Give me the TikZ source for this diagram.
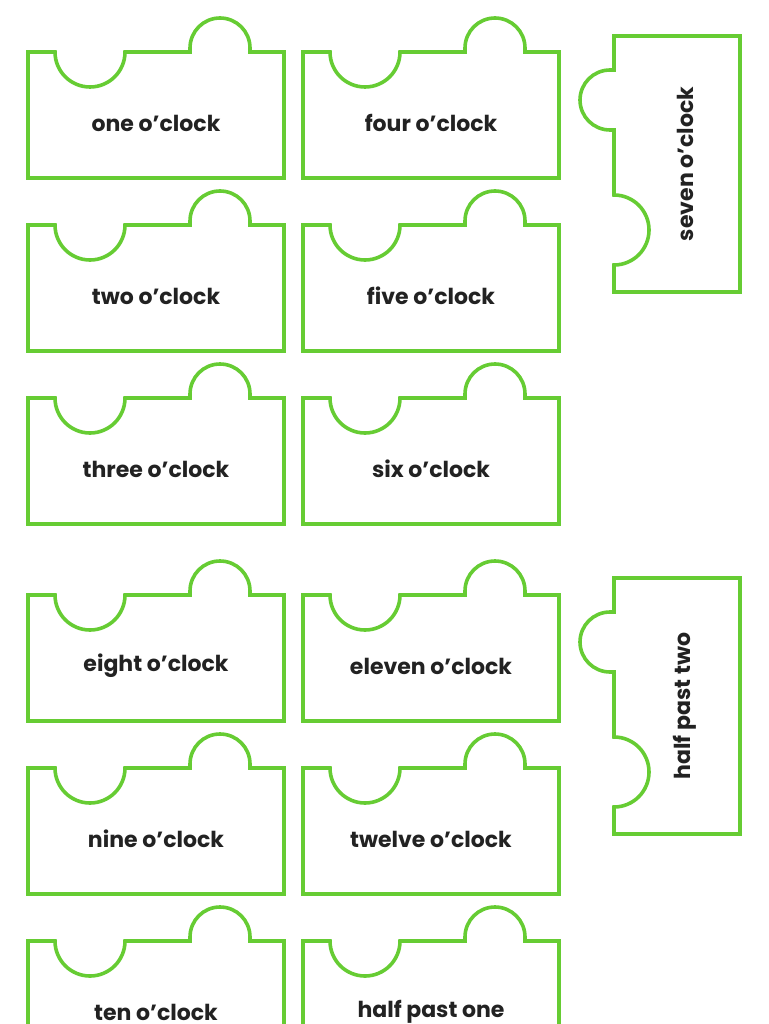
\documentclass[tikz,border=0pt]{standalone}
\usepackage{fontspec}
\setmainfont{Poppins}
\begin{document}
\begin{tikzpicture}[x=1pt,y=1pt,
  piece/.style={draw=pgreen,line width=3.6pt,fill=white,line join=miter},
  lbl/.style={font=\fontsize{22}{26}\selectfont\bfseries,text=txt}]
\definecolor{pgreen}{HTML}{66CC33}
\definecolor{txt}{HTML}{222222}
\tikzset{jig/.pic={
  \draw[piece] (0,0) -- (27,0) arc[start angle=180,end angle=360,radius=35] -- (162,0) -- (162,4)
     arc[start angle=180,end angle=0,radius=30] -- (222,0) -- (256,0) -- (256,-126) -- (0,-126) -- cycle;
  \node[lbl,transform shape] (-t) at (128,-71) {\tikzpictext};
}}
\useasboundingbox (0,0) rectangle (768,-1024);
\clip (0,0) rectangle (768,-1024);
\foreach \x/\y/\t [count=\i] in {28/52/one o’clock,303/52/four o’clock,28/225/two o’clock,303/225/five o’clock,
  28/398/three o’clock,303/398/six o’clock,28/595/eight o’clock,303/595/eleven o’clock,
  28/768/nine o’clock,303/768/twelve o’clock,28/941/ten o’clock,303/941/half past one}
  \pic[pic text={\t}] (p\i) at (\x,-\y) {jig};
\pic[rotate=90,pic text={seven o’clock}] (v1) at (614,-292) {jig};
\pic[rotate=90,pic text={half past two}] (v2) at (614,-834) {jig};
\end{tikzpicture}
\end{document}
